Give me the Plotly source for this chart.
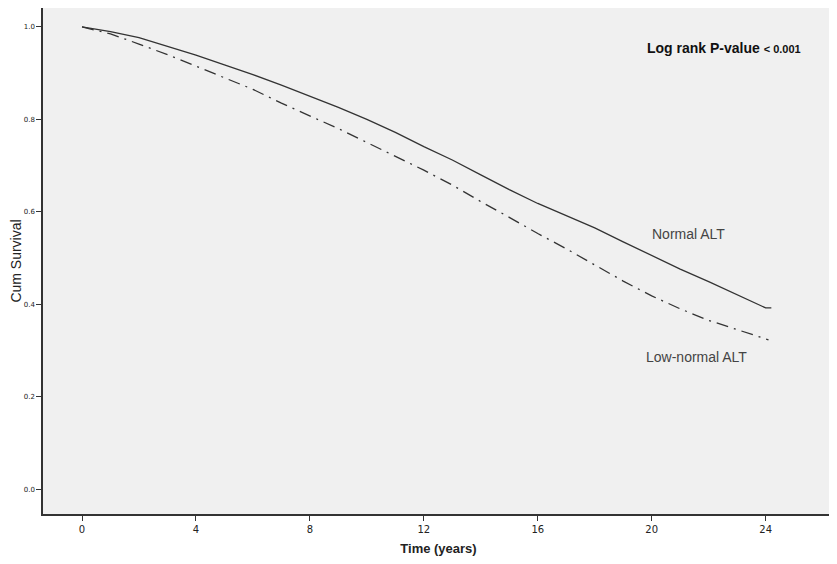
import plotly.graph_objects as go

# Kaplan-Meier curves
years = list(range(0, 25))
normal_alt = [1.0, 0.99, 0.977, 0.958, 0.939, 0.918, 0.897, 0.874, 0.85, 0.826,
              0.8, 0.772, 0.741, 0.712, 0.68, 0.648, 0.618, 0.591, 0.565, 0.535,
              0.506, 0.476, 0.449, 0.42, 0.392]
low_normal_alt = [1.0, 0.985, 0.963, 0.94, 0.915, 0.89, 0.865, 0.835, 0.808, 0.78,
                  0.75, 0.72, 0.69, 0.658, 0.622, 0.588, 0.553, 0.52, 0.485, 0.45,
                  0.418, 0.39, 0.365, 0.345, 0.325]
normal_end = (24.2, 0.392)
low_end = (24.1, 0.323)

x_ticks = [0, 4, 8, 12, 16, 20, 24]
y_ticks = [0.0, 0.2, 0.4, 0.6, 0.8, 1.0]

line_col = "#333333"

fig = go.Figure()
fig.add_trace(go.Scatter(x=years + [normal_end[0]], y=normal_alt + [normal_end[1]],
                         mode="lines", line=dict(color=line_col, width=1.3),
                         name="Normal ALT"))
fig.add_trace(go.Scatter(x=years + [low_end[0]], y=low_normal_alt + [low_end[1]],
                         mode="lines",
                         line=dict(color=line_col, width=1.3, dash="12px,6px,2px,6px"),
                         name="Low-normal ALT"))

fig.add_annotation(x=21.3, y=0.552, text="Normal ALT", showarrow=False,
                   font=dict(family="Liberation Sans, Arial", size=14, color="#444"))
fig.add_annotation(x=21.56, y=0.286, text="Low-normal ALT", showarrow=False,
                   font=dict(family="Liberation Sans, Arial", size=14, color="#444"))
fig.add_annotation(x=22.54, y=0.955, showarrow=False,
                   text="<b>Log rank P-value</b> <b><span style='font-size:11px'>&lt; 0.001</span></b>",
                   font=dict(family="Liberation Sans, Arial", size=14, color="#111"))

# page body adds an 8px offset, so margins are trimmed to match
fig.update_layout(
    width=829, height=556,
    margin=dict(l=35, r=3, t=0, b=50),
    paper_bgcolor="white",
    plot_bgcolor="#f0f0f0",
    showlegend=False,
    font=dict(family="DejaVu Sans, Verdana", color="#222"),
)
fig.update_xaxes(range=[-1.37, 26.4], tickvals=x_ticks, ticks="outside", ticklen=5,
                 tickcolor=line_col, showgrid=False, zeroline=False, automargin=False,
                 showline=True, linecolor=line_col, linewidth=1.5, mirror=True,
                 tickfont=dict(size=10, family="DejaVu Sans, Verdana"),
                 title=dict(text="<b>Time (years)</b>", standoff=10,
                            font=dict(family="Liberation Sans, Arial", size=13)))
fig.update_yaxes(range=[-0.054, 1.041], tickvals=y_ticks, tickformat=".1f",
                 ticks="outside", ticklen=5, tickcolor=line_col,
                 showgrid=False, zeroline=False, automargin=False,
                 showline=True, linecolor=line_col, linewidth=1.5, mirror=True,
                 tickfont=dict(size=7, family="DejaVu Sans, Verdana"),
                 title=dict(text="Cum Survival", standoff=11,
                            font=dict(family="Liberation Sans, Arial", size=14)))

fig.write_html("out.html")
